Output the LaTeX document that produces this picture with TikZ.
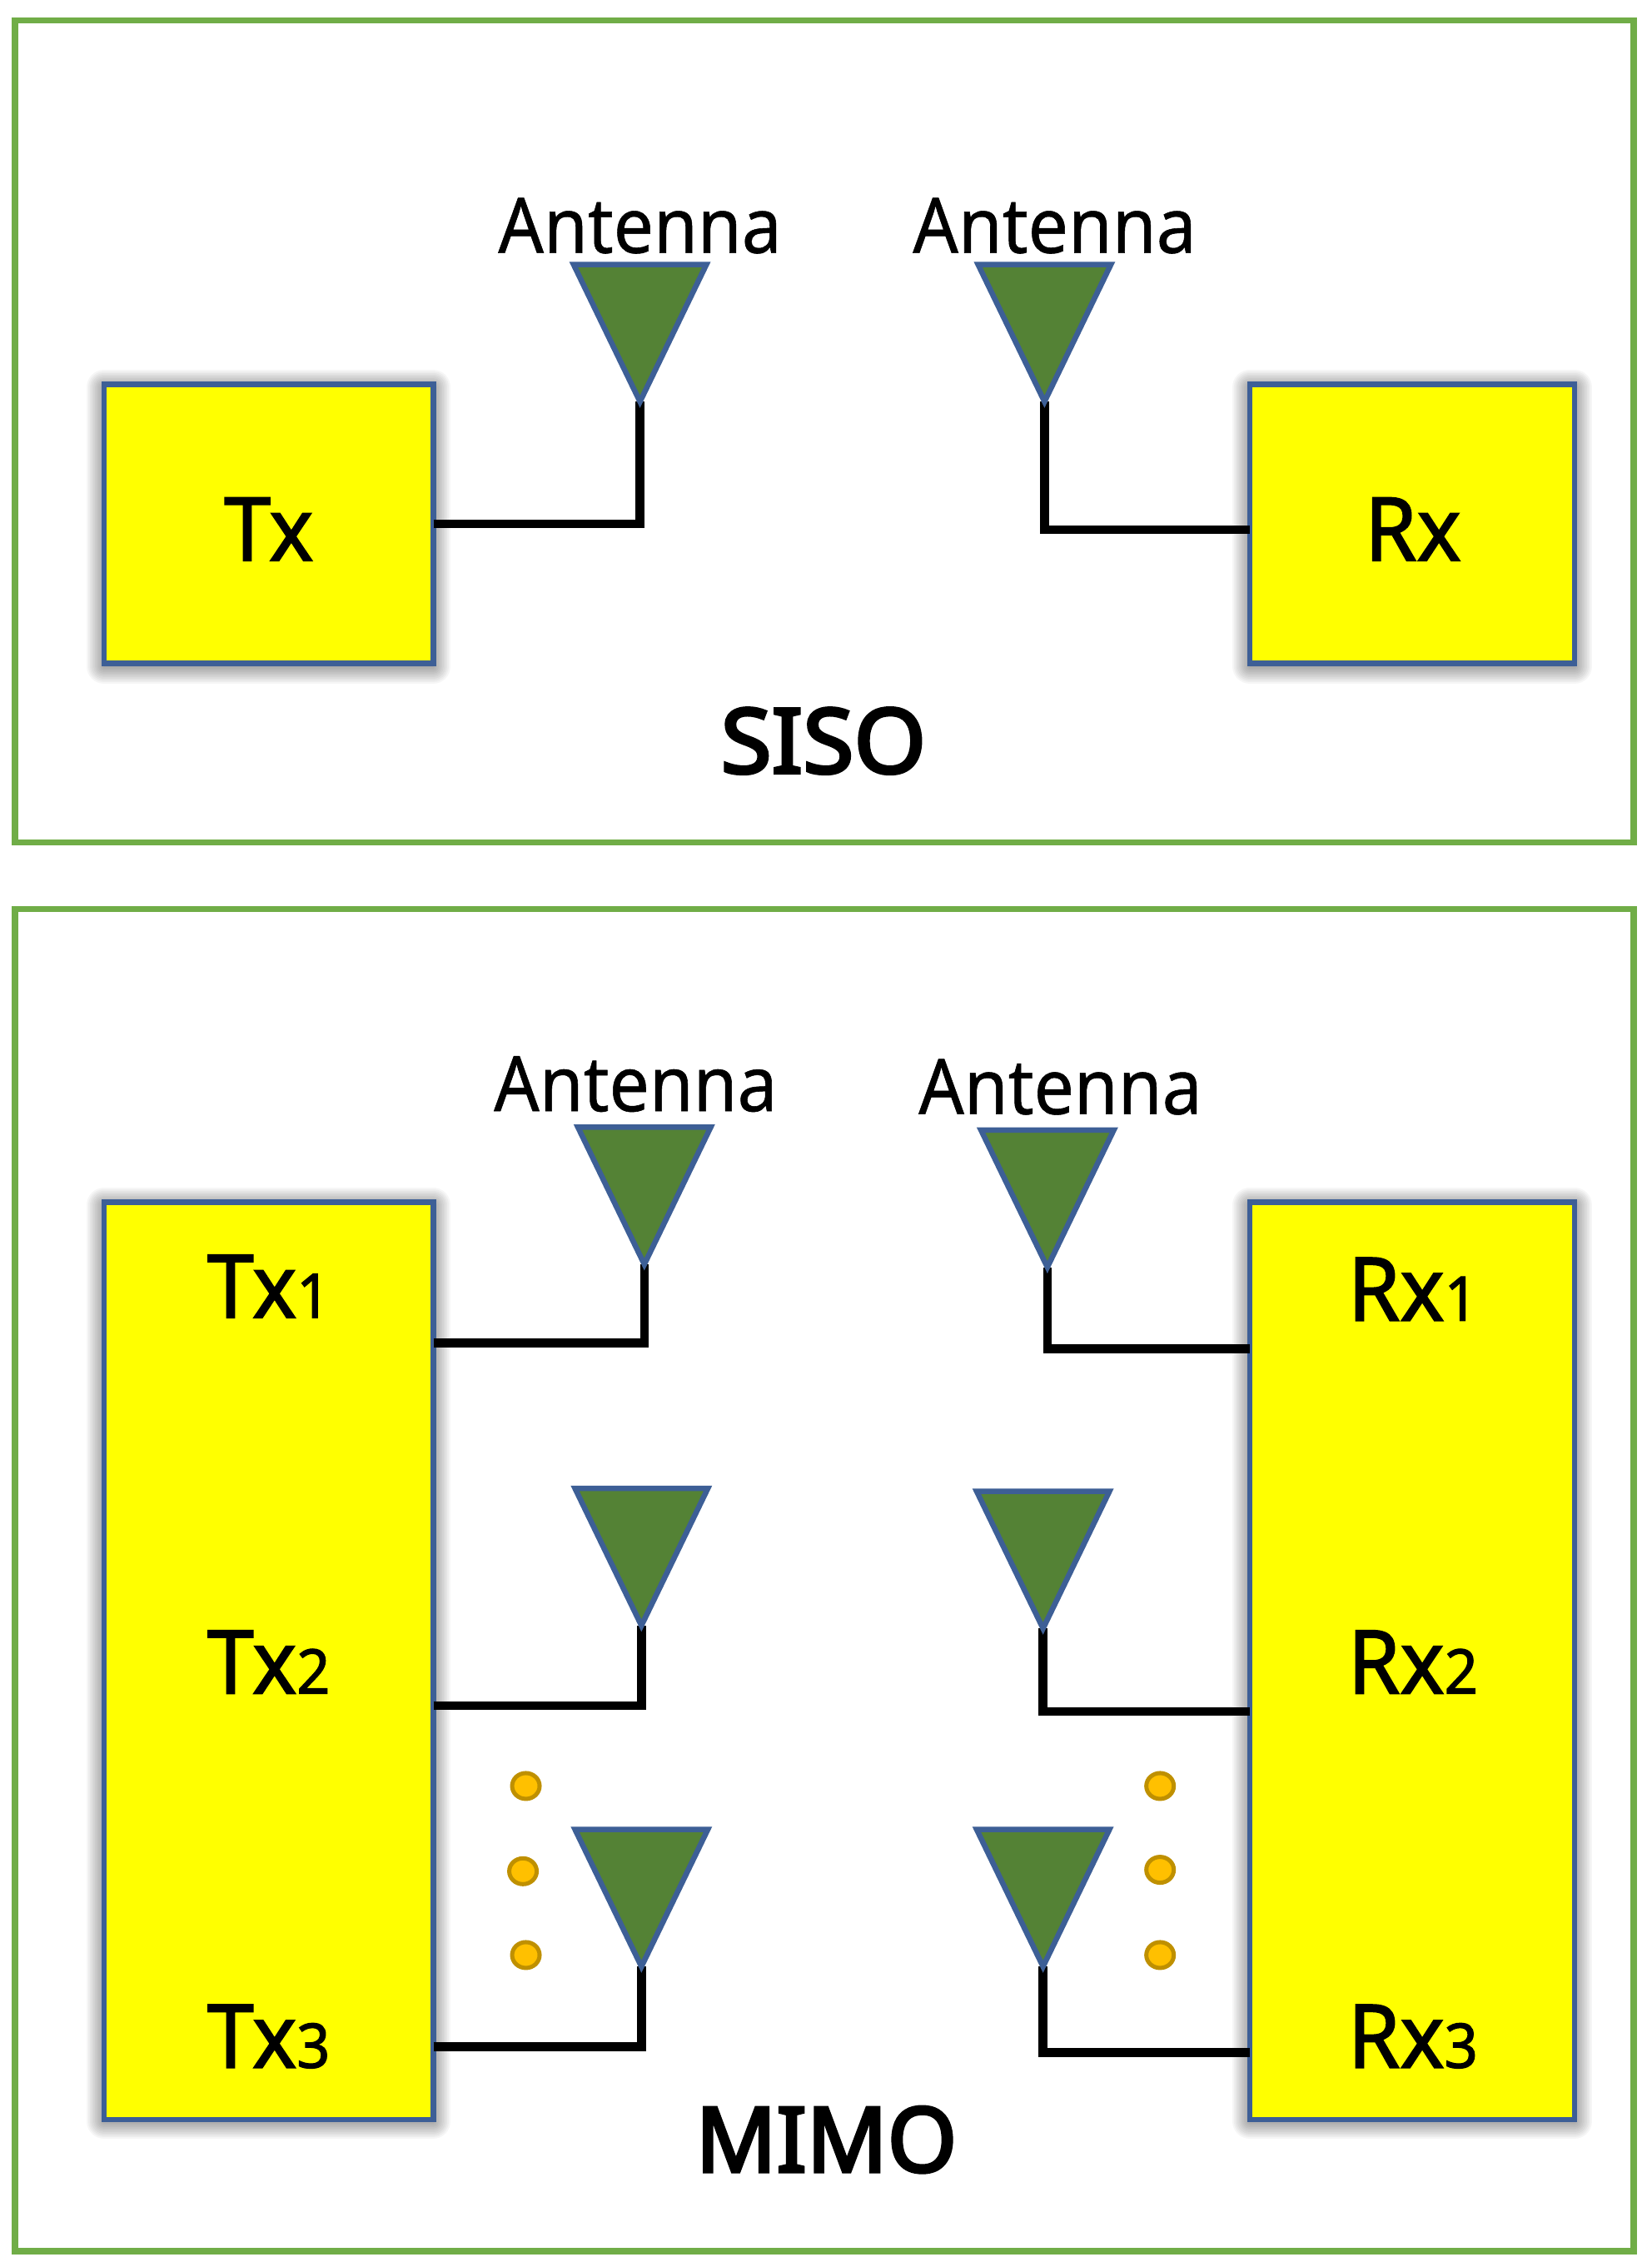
\documentclass[tikz,border=0pt]{standalone}
\usepackage{fontspec}
\setmainfont{Noto Sans}[FakeStretch=0.93]
\newfontfamily\labfont{Noto Sans}[FakeStretch=0.93,FakeBold=0.6]
\newfontfamily\blockfont{Noto Sans}[FakeStretch=0.95,FakeBold=1.6]
\newfontfamily\sisofont{Noto Sans}[FakeStretch=1.03,FakeBold=3.5]
\newfontfamily\mimofont{Noto Sans}[FakeStretch=0.99,FakeBold=3.5]
\definecolor{framegreen}{HTML}{70AD47}
\definecolor{boxblue}{HTML}{3D5F96}
\definecolor{boxyellow}{HTML}{FFFF00}
\definecolor{antgreen}{HTML}{548235}
\definecolor{dotfill}{HTML}{FFC000}
\definecolor{dotedge}{HTML}{BF9000}
\newcommand{\softshadow}[4]{%
  \foreach \w in {2,6,...,42}{
    \draw[black,draw opacity=0.035,line width=\w pt,line join=round]
      (#1,#2) rectangle (#3,#4);
  }}
\tikzset{
  frame/.style={draw=framegreen,line width=7.5pt,anchor=north west,inner sep=0pt,outer sep=0pt},
  blockbox/.style={draw=boxblue,fill=boxyellow,line width=6.5pt,inner sep=0pt,outer sep=0pt,anchor=north west},
  antenna/.style={draw=boxblue,fill=antgreen,line width=6.5pt,line join=miter,miter limit=4},
  wire/.style={draw=black,line width=10.5pt,line join=miter,line cap=butt},
  dot/.style={ellipse,draw=dotedge,fill=dotfill,line width=5pt,minimum width=33pt,minimum height=31pt,inner sep=0pt,outer sep=0pt},
  antlabel/.style={font=\labfont\fontsize{92pt}{92pt}\selectfont,anchor=base,inner sep=0pt},
  blocklabel/.style={font=\blockfont\fontsize{106pt}{106pt}\selectfont,anchor=base,inner sep=0pt},
  sisolabel/.style={font=\sisofont\fontsize{108pt}{108pt}\selectfont,anchor=base,inner sep=0pt},
  mimolabel/.style={font=\mimofont\fontsize{108pt}{108pt}\selectfont,anchor=base,inner sep=0pt},
}
\usetikzlibrary{shapes.geometric}
\newcommand{\sub}[1]{{\fontsize{74pt}{74pt}\selectfont #1}}
\begin{document}
\begin{tikzpicture}[x=1.735pt,y=-1.735pt]
\useasboundingbox (0,0) rectangle (1143.5,1568.9);
\fill[white] (0,0) rectangle (1143.5,1568.9);
% frames
\node[frame,minimum width=1944pt,minimum height=987.2pt] (sisoframe) at (10.5,14) {};
\node[frame,minimum width=1944pt,minimum height=1611.5pt] (mimoframe) at (10.5,629) {};
% shadows
\softshadow{72}{268}{300}{461}
\softshadow{865}{268}{1090}{461}
\softshadow{72}{834}{300}{1468}
\softshadow{865}{834}{1090}{1468}
% blocks
\node[blockbox,minimum width=395.6pt,minimum height=334.9pt] (tx) at (72,266) {};
\node[blockbox,minimum width=390.4pt,minimum height=334.9pt] (rx) at (865,266) {};
\node[blockbox,minimum width=395.6pt,minimum height=1101.5pt] (txm) at (72,832) {};
\node[blockbox,minimum width=390.4pt,minimum height=1101.5pt] (rxm) at (865,832) {};
% antenna apexes
\coordinate (a1) at (443,278);
\coordinate (a2) at (723,278);
\coordinate (b1) at (446,875);
\coordinate (b2) at (444,1125);
\coordinate (b3) at (444,1361);
\coordinate (c1) at (725,877);
\coordinate (c2) at (722,1127);
\coordinate (c3) at (722,1361);
% wires
\draw[wire] (tx.east) -| (a1);
\draw[wire] (rx.west |- 0,366.5) -| (a2);
\draw[wire] (txm.east |- 0,929.5) -| (b1);
\draw[wire] (txm.east |- 0,1180.5) -| (b2);
\draw[wire] (txm.east |- 0,1416.5) -| (b3);
\draw[wire] (rxm.west |- 0,933.5) -| (c1);
\draw[wire] (rxm.west |- 0,1184.5) -| (c2);
\draw[wire] (rxm.west |- 0,1420.5) -| (c3);
% antennas
\foreach \a in {a1,a2,b1,b2,b3,c1,c2,c3}{
  \draw[antenna] (\a) -- ++(-46,-95) -- ++(92,0) -- cycle;
}
% dots
\node[dot] (d1) at (364,1236) {};
\node[dot] (d2) at (362,1295) {};
\node[dot] (d3) at (364,1353) {};
\node[dot] (d4) at (803,1236) {};
\node[dot] (d5) at (803,1294) {};
\node[dot] (d6) at (803,1353) {};
% text
\node[antlabel] (l1) at (443,175) {Antenna};
\node[antlabel] (l2) at (730,175) {Antenna};
\node[antlabel] (l3) at (440,769) {Antenna};
\node[antlabel] (l4) at (734,771) {Antenna};
\node[blocklabel] (t0) at (186,388) {Tx};
\node[blocklabel] (r0) at (978,388) {Rx};
\node[blocklabel] (t1) at (186,912) {Tx\sub{1}};
\node[blocklabel] (t2) at (186,1172) {Tx\sub{2}};
\node[blocklabel] (t3) at (186,1431) {Tx\sub{3}};
\node[blocklabel] (r1) at (978,914) {Rx\sub{1}};
\node[blocklabel] (r2) at (978,1172) {Rx\sub{2}};
\node[blocklabel] (r3) at (978,1431) {Rx\sub{3}};
\node[sisolabel] (siso) at (570,535) {SISO};
\node[mimolabel] (mimo) at (572,1503) {MIMO};
\end{tikzpicture}
\end{document}
